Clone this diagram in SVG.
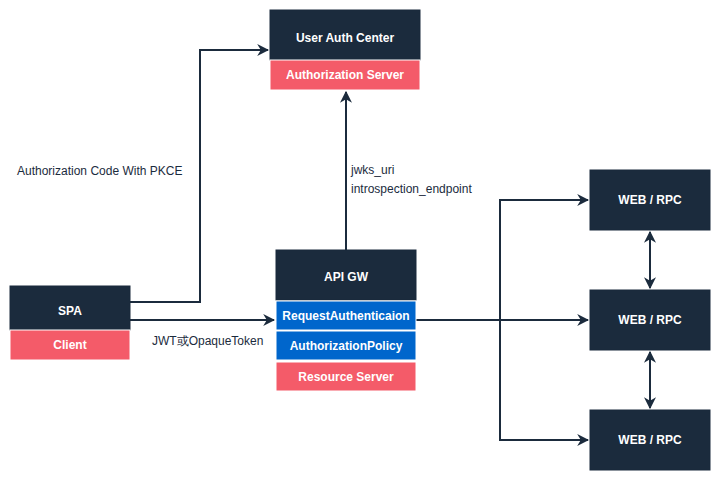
<svg xmlns="http://www.w3.org/2000/svg" width="721" height="481" viewBox="0 0 721 481">
<style>
text{font-family:"Liberation Sans",Arial,sans-serif;font-size:12px;text-anchor:middle;dominant-baseline:central}
.w{fill:#fff;font-weight:bold}
.l{fill:#1b2b3d;text-anchor:start}
.d{fill:#1b2b3d;stroke:#1b2b3d}
.r{fill:#f45b69;stroke:#fff}
.b{fill:#0066cc;stroke:#fff}
.c{fill:none;stroke:#1b2b3d;stroke-width:2}
</style>
<defs><marker id="a" viewBox="0 0 10 10" refX="9" refY="5" markerWidth="6" markerHeight="6" orient="auto-start-reverse"><path d="M0,0 L10,5 L0,10 L3,5z" fill="#1b2b3d"/></marker></defs>
<rect width="721" height="481" fill="#fff"/>
<g id="connectors">
<path class="c" d="M130,302 H200 V50 H268" marker-end="url(#a)"/>
<path class="c" d="M346,250 V92" marker-end="url(#a)"/>
<path class="c" d="M130,320 H274" marker-end="url(#a)"/>
<path class="c" d="M416,320 H588" marker-end="url(#a)"/>
<path class="c" d="M500,320 V200 H588" marker-end="url(#a)"/>
<path class="c" d="M500,320 V440 H588" marker-end="url(#a)"/>
<path class="c" d="M650,232 V288" marker-start="url(#a)" marker-end="url(#a)"/>
<path class="c" d="M650,352 V408" marker-start="url(#a)" marker-end="url(#a)"/>
<text class="l" x="17" y="171">Authorization Code With PKCE</text>
<text class="l" x="351" y="170">jwks_uri</text>
<text class="l" x="351" y="189">introspection_endpoint</text>
<text class="l" x="152" y="341">JWT或OpaqueToken</text>
</g>
<g id="auth"><rect class="d" x="270" y="10" width="150" height="50"/><text class="w" x="345" y="38">User Auth Center</text>
<rect class="r" x="270" y="60" width="150" height="30" stroke="none"/><text class="w" x="345" y="75">Authorization Server</text></g>
<g id="apigw"><rect class="d" x="276" y="250" width="140" height="50"/><text class="w" x="346" y="277">API GW</text>
<rect class="b" x="276" y="301" width="140" height="29"/><text class="w" x="346" y="316">RequestAuthenticaion</text>
<rect class="b" x="276" y="331" width="140" height="29"/><text class="w" x="346" y="346">AuthorizationPolicy</text>
<rect class="r" x="276" y="362" width="140" height="29"/><text class="w" x="346" y="377">Resource Server</text></g>
<g id="spa"><rect class="d" x="10" y="286" width="120" height="44"/><text class="w" x="70" y="311">SPA</text>
<rect class="r" x="10" y="330" width="120" height="30" stroke="none"/><text class="w" x="70" y="345">Client</text></g>
<g id="web1"><rect class="d" x="590" y="170" width="120" height="60"/><text class="w" x="650" y="200">WEB / RPC</text></g>
<g id="web2"><rect class="d" x="590" y="290" width="120" height="60"/><text class="w" x="650" y="320">WEB / RPC</text></g>
<g id="web3"><rect class="d" x="590" y="410" width="120" height="60"/><text class="w" x="650" y="440">WEB / RPC</text></g>
</svg>
